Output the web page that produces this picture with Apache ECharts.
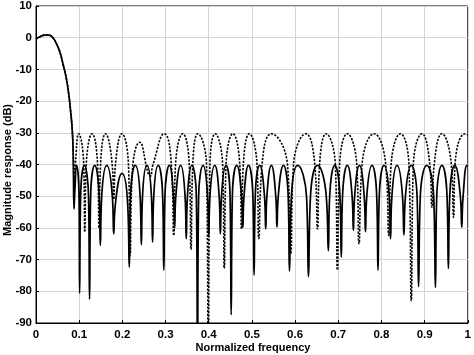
<!DOCTYPE html>
<html>
<head>
<meta charset="utf-8">
<script src="https://cdn.jsdelivr.net/npm/echarts@6/dist/echarts.min.js"></script>
<style>
html,body{margin:0;padding:0;background:#fff;}
#chart{width:474px;height:355px;}
</style>
</head>
<body>
<div id="chart"></div>
<script>
// Passband / main lobe (shared shape)
const mainLobeFreq = [0, 0.009, 0.02, 0.03, 0.039, 0.047, 0.055, 0.062, 0.07, 0.076, 0.08, 0.084];
const mainLobeDb   = [-0.4, 0.3, 0.8, 0.8, 0, -1.8, -4.4, -8, -12.7, -18, -23, -29.2];

// Solid curve stopband (nulls, lobe shoulders, peaks)
const solidStopFreq = [0.086, 0.088,
  0.0893, 0.094, 0.0997, 0.101,
  0.1033, 0.112, 0.1217, 0.124,
  0.1265, 0.136, 0.1465, 0.149,
  0.1521, 0.164, 0.1769, 0.180,
  0.1836, 0.199, 0.2124, 0.216,
  0.2188, 0.230, 0.2412, 0.244,
  0.2466, 0.257, 0.2674, 0.270,
  0.2726, 0.283, 0.2934, 0.296,
  0.2985, 0.309, 0.3185, 0.321,
  0.3237, 0.335, 0.3453, 0.348,
  0.3506, 0.361, 0.3714, 0.374,
  0.3766, 0.387, 0.3974, 0.400,
  0.4027, 0.414, 0.4243, 0.427,
  0.4295, 0.440, 0.4495, 0.452,
  0.4547, 0.465, 0.4763, 0.479,
  0.4816, 0.492, 0.5024, 0.505,
  0.5077, 0.518, 0.5293, 0.532,
  0.5346, 0.545, 0.5554, 0.558,
  0.5609, 0.573, 0.5841, 0.587,
  0.5914, 0.606, 0.6266, 0.631,
  0.6356, 0.652, 0.6724, 0.677,
  0.680, 0.692, 0.704, 0.707,
  0.7098, 0.721, 0.7322, 0.735,
  0.7378, 0.749, 0.7602, 0.763,
  0.7659, 0.778, 0.7891, 0.792,
  0.7949, 0.806, 0.8181, 0.821,
  0.8241, 0.836, 0.8489, 0.852,
  0.8554, 0.869, 0.8826, 0.886,
  0.8899, 0.905, 0.9211, 0.925,
  0.928, 0.940, 0.952, 0.955,
  0.9581, 0.970, 0.9829, 0.986,
  0.989, 0.998, 1.0];
const solidStopDb = [-36, -54,
  -50.3, -40.3, -50.3, -80.6,
  -50.3, -40.3, -50.3, -82.5,
  -50.3, -40.3, -50.3, -65.5,
  -50.3, -40.3, -50.3, -61.9,
  -52.8, -42.8, -52.8, -72.4,
  -50.3, -40.3, -50.3, -65.3,
  -50.3, -40.3, -50.3, -64.5,
  -50.3, -40.3, -50.3, -73.3,
  -50.3, -40.3, -50.3, -60,
  -50.3, -40.3, -50.3, -63.4,
  -50.3, -40.3, -50.3, -100,
  -50.3, -40.3, -50.3, -62.4,
  -50.3, -40.3, -50.3, -61.9,
  -50.3, -40.3, -50.3, -87.4,
  -50.3, -40.3, -50.3, -59.8,
  -50.3, -40.3, -50.3, -74.9,
  -50.3, -40.3, -50.3, -60.3,
  -50.3, -40.3, -50.3, -59.7,
  -50.3, -40.3, -50.3, -73.6,
  -50.3, -40.3, -50.3, -75.4,
  -50.3, -40.3, -50.3, -67.2,
  -50.3, -40.3, -50.3, -69.2,
  -50.3, -40.3, -50.3, -60.8,
  -50.3, -40.3, -50.3, -61.2,
  -50.3, -40.3, -50.3, -73.3,
  -50.3, -40.3, -50.3, -63.4,
  -50.3, -40.3, -50.3, -62.2,
  -50.3, -40.3, -50.3, -78.5,
  -50.3, -40.3, -50.3, -78.8,
  -50.3, -40.3, -50.3, -72.8,
  -50.3, -40.3, -50.3, -59.8,
  -50.3, -40.3, -40.5];

// Dotted curve stopband
const dottedStopFreq = [0.0865, 0.0885,
  0.0910, 0.099, 0.1106, 0.113,
  0.1163, 0.130, 0.1427, 0.146,
  0.1494, 0.161, 0.1766, 0.180,
  0.1838, 0.199, 0.2142, 0.218,
  0.2227, 0.240, 0.2603, 0.265,
  0.2704, 0.297, 0.3136, 0.319,
  0.323, 0.340, 0.355, 0.359,
  0.363, 0.375, 0.395, 0.399,
  0.4027, 0.415, 0.4323, 0.436,
  0.440, 0.456, 0.472, 0.476,
  0.480, 0.494, 0.512, 0.516,
  0.5234, 0.545, 0.5826, 0.590,
  0.5962, 0.625, 0.6458, 0.652,
  0.6566, 0.672, 0.6934, 0.698,
  0.703, 0.721, 0.743, 0.748,
  0.7549, 0.783, 0.8101, 0.817,
  0.8222, 0.844, 0.8638, 0.869,
  0.8738, 0.894, 0.9122, 0.917,
  0.922, 0.940, 0.962, 0.967,
  0.9703, 0.994, 1.0];
const dottedStopDb = [-38, -47,
  -40.3, -30.3, -40.3, -61.3,
  -40.3, -30.3, -40.3, -60,
  -40.3, -30.3, -40.3, -51,
  -40.3, -30.3, -40.3, -68.5,
  -43, -33, -43, -43.6,
  -40.3, -30.3, -40.3, -62.4,
  -40.3, -30.3, -40.3, -66.8,
  -40.3, -30.3, -40.3, -100,
  -40.3, -30.3, -40.3, -72.8,
  -40.3, -30.3, -40.3, -60.3,
  -40.3, -30.3, -40.3, -63.4,
  -40.3, -30.3, -40.3, -68,
  -40.3, -30.3, -40.3, -60.3,
  -40.3, -30.3, -40.3, -73.3,
  -40.3, -30.3, -40.3, -65,
  -40.3, -30.3, -40.3, -62.4,
  -40.3, -30.3, -40.3, -83,
  -40.3, -30.3, -40.3, -53.5,
  -40.3, -30.3, -40.3, -56.7,
  -40.3, -30.3, -30.6];

const xTicks = [0, 0.1, 0.2, 0.3, 0.4, 0.5, 0.6, 0.7, 0.8, 0.9, 1];
const yTicks = [-90, -80, -70, -60, -50, -40, -30, -20, -10, 0, 10];
const xTitle = 'Normalized frequency';
const yTitle = 'Magnitude response (dB)';

function zip(xs, ys) { return xs.map((x, i) => [x, ys[i]]); }
const solidData = zip(mainLobeFreq.concat(solidStopFreq), mainLobeDb.concat(solidStopDb));
const dottedData = zip(mainLobeFreq.concat(dottedStopFreq), mainLobeDb.concat(dottedStopDb));

const font = '"Liberation Sans", Arial, sans-serif';
const chart = echarts.init(document.getElementById('chart'), null, {renderer: 'canvas'});
chart.setOption({
  animation: false,
  backgroundColor: '#fff',
  grid: {left: 36, right: 3, top: 4, bottom: 32, show: true, borderColor: '#000', borderWidth: 1, backgroundColor: 'transparent'},
  graphic: [
    {type: 'text', x: 253, y: 348, style: {text: xTitle, font: 'bold 11px ' + font, fill: '#000', align: 'center', verticalAlign: 'middle'}},
    {type: 'text', x: 7.5, y: 170, rotation: Math.PI / 2, style: {text: yTitle, font: 'bold 11px ' + font, fill: '#000', align: 'center', verticalAlign: 'middle'}}
  ],
  xAxis: {
    type: 'value', min: xTicks[0], max: xTicks[xTicks.length - 1], interval: 0.1,
    axisLine: {show: true, onZero: false, lineStyle: {color: '#000', width: 1}},
    axisTick: {show: true, inside: true, length: 3, lineStyle: {color: '#000'}},
    axisLabel: {fontFamily: font, fontWeight: 'bold', fontSize: 11.5, color: '#000', margin: 6,
      formatter: v => String(Math.round(v * 10) / 10)},
    splitLine: {show: true, lineStyle: {color: '#d4d4d4', width: 1}}
  },
  yAxis: {
    type: 'value', min: yTicks[0], max: yTicks[yTicks.length - 1], interval: 10,
    axisLine: {show: true, onZero: false, lineStyle: {color: '#000', width: 1}},
    axisTick: {show: true, inside: true, length: 3, lineStyle: {color: '#000'}},
    axisLabel: {fontFamily: font, fontWeight: 'bold', fontSize: 11.5, color: '#000', margin: 4},
    splitLine: {show: true, lineStyle: {color: '#d4d4d4', width: 1}}
  },
  series: [
    {type: 'line', data: solidData, showSymbol: false, symbol: 'none', smooth: 0.5, clip: true,
      lineStyle: {color: '#000', width: 1.7, type: 'solid'}},
    {type: 'line', data: dottedData, showSymbol: false, symbol: 'none', smooth: 0.5, clip: true,
      lineStyle: {color: '#000', width: 1.6, type: [2.2, 1.4]}}
  ]
});
</script>
</body>
</html>
